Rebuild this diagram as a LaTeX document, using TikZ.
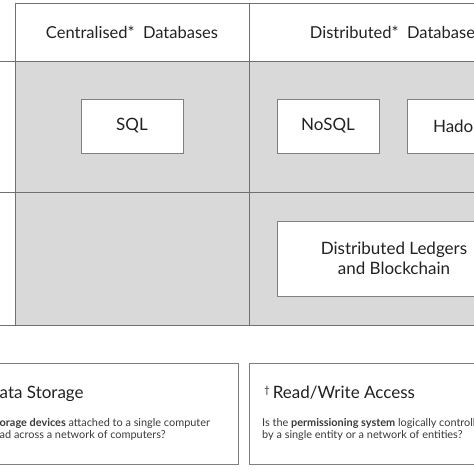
\documentclass[tikz,border=0pt]{standalone}
\usepackage{fontspec}
\setmainfont{Lato}
\definecolor{gridc}{HTML}{707070}
\definecolor{boxc}{HTML}{808080}
\definecolor{cellfill}{HTML}{D9D9D9}
\definecolor{txtc}{HTML}{222222}
\definecolor{bodyc}{HTML}{3A3A3A}
\begin{document}
\begin{tikzpicture}[x=1pt,y=-1pt,
  gridline/.style={draw=gridc, line width=0.9pt},
  itembox/.style={draw=boxc, fill=white, line width=0.8pt, inner sep=0pt,
    text=txtc, font=\fontsize{17}{20}\selectfont, align=center},
  infobox/.style={draw=boxc, fill=white, line width=0.9pt, inner sep=0pt},
  headtxt/.style={text=txtc, font=\fontsize{16.5}{20}\selectfont, inner sep=0pt},
  titletxt/.style={text=txtc, font=\fontsize{17}{20}\selectfont, inner sep=0pt, anchor=base west},
  bodytxt/.style={text=bodyc, font=\fontsize{10.9}{12.5}\selectfont, inner sep=0pt, anchor=base west}]
\useasboundingbox (0,0) rectangle (474,474);
\clip (0,0) rectangle (474,474);
% grid
\fill[cellfill] (15,61) rectangle (480,325);
\draw[gridline] (15,3) -- (480,3);
\draw[gridline] (0,61) -- (480,61);
\draw[gridline] (0,192) -- (480,192);
\draw[gridline] (0,325) -- (480,325);
\draw[gridline] (15,3) -- (15,325);
\draw[gridline] (249,3) -- (249,325);
% headers
\node[headtxt] (hcent) at (132,32) {Centralised*\ \ Databases};
\node[headtxt] (hdist) at (396,32) {Distributed*\ \ Databases};
% items
\node[itembox, minimum width=102pt, minimum height=54pt] (sql) at (132,126) {SQL};
\node[itembox, minimum width=102pt, minimum height=54pt] (nosql) at (328,126) {NoSQL};
\node[itembox, minimum width=102pt, minimum height=54pt] (hadoop) at (458,126) {Hadoo};
\node[itembox, minimum width=234pt, minimum height=75pt] (dlt) at (394,258.5) {Distributed Ledgers\\and Blockchain};
% bottom boxes
\node[infobox, minimum width=258pt, minimum height=101pt] (storebox) at (109,413.5) {};
\node[infobox, minimum width=250pt, minimum height=101pt] (accessbox) at (374,413.5) {};
\node[titletxt] (storetitle) at (-0.5,398) {ata Storage};
\node[bodytxt] (storel1) at (-0.5,426) {\textbf{orage devices} attached to a single computer};
\node[bodytxt] (storel2) at (-0.5,438.5) {ad across a network of computers?};
\node[titletxt] (acctitle) at (264,398) {\raisebox{0.55ex}{\fontsize{10}{12}\selectfont †}\,Read/Write\ Access};
\node[bodytxt] (accl1) at (262,426) {Is the \textbf{permissioning system} logically controll};
\node[bodytxt] (accl2) at (262,438.5) {by a single entity or a network of entities?};
\end{tikzpicture}
\end{document}
